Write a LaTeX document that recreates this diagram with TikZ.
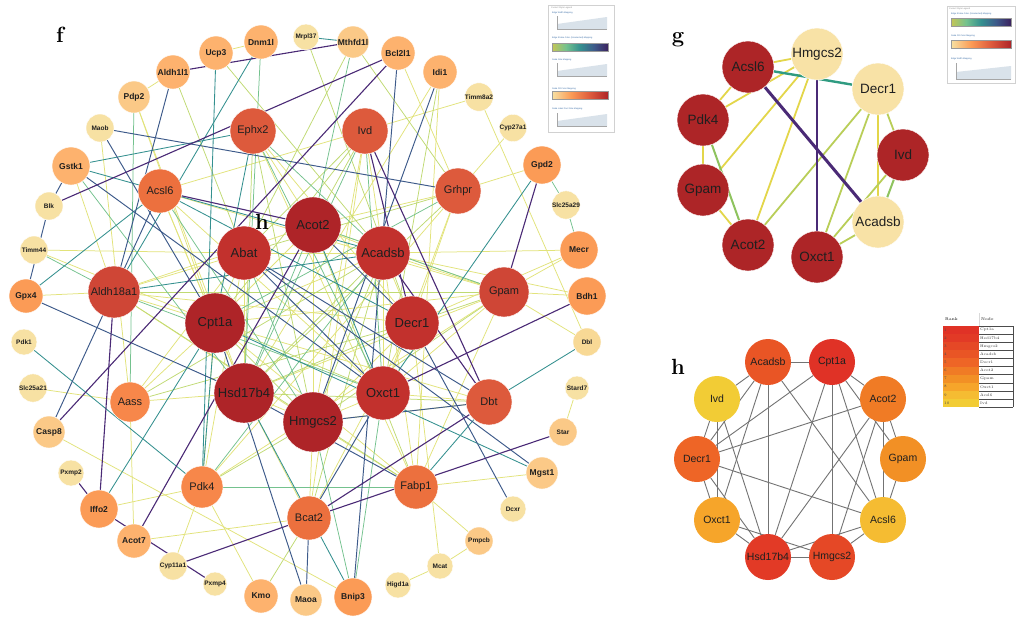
\documentclass[tikz,border=0pt]{standalone}
\usepackage{fontspec}
\setsansfont{Liberation Sans}
\usetikzlibrary{backgrounds}

% node fills
\definecolor{c1}{HTML}{F7E1A3}
\definecolor{c1b}{HTML}{F8D995}
\definecolor{c2}{HTML}{FBC987}
\definecolor{c3}{HTML}{FDB26E}
\definecolor{c4}{HTML}{FB9B56}
\definecolor{c4b}{HTML}{F7874A}
\definecolor{c5}{HTML}{EC703E}
\definecolor{c6}{HTML}{DD5A3C}
\definecolor{c6b}{HTML}{CF4636}
\definecolor{c7}{HTML}{C2312D}
\definecolor{c8}{HTML}{AE2428}
\definecolor{gred}{HTML}{AD2527}
\definecolor{gpale}{HTML}{F8E2A6}
% edge colours
\definecolor{ey}{HTML}{E2E37A}
\definecolor{eyg}{HTML}{C0DA72}
\definecolor{eg}{HTML}{74C28E}
\definecolor{et}{HTML}{34908F}
\definecolor{eb}{HTML}{3D5A8A}
\definecolor{ep}{HTML}{4A2A76}
\definecolor{gy}{HTML}{E3D64A}
\definecolor{gyg}{HTML}{B9CE58}
\definecolor{gg}{HTML}{8EC35E}
% rank colours
\definecolor{r1}{HTML}{E03226}
\definecolor{r2}{HTML}{E23A26}
\definecolor{r3}{HTML}{E54826}
\definecolor{r4}{HTML}{E95525}
\definecolor{r5}{HTML}{EE6526}
\definecolor{r6}{HTML}{F07B25}
\definecolor{r7}{HTML}{F29025}
\definecolor{r8}{HTML}{F6A52A}
\definecolor{r9}{HTML}{F5BC32}
\definecolor{r10}{HTML}{F2CC35}
\definecolor{wedge}{HTML}{D9E2EA}
\definecolor{ttl}{HTML}{3C6FA8}

\tikzset{
  gene/.style={circle,draw=white,line width=.4pt,inner sep=0pt,text=black!88},
  big/.style={gene,minimum size=58,font=\sffamily\fontsize{13}{13}\selectfont},
  mid/.style={gene,minimum size=46,font=\sffamily\fontsize{11}{11}\selectfont},
  ring/.style={gene,minimum size=34,font=\sffamily\bfseries\fontsize{8.5}{8.5}\selectfont},
  sml/.style={gene,minimum size=26,font=\sffamily\bfseries\fontsize{6.5}{6.5}\selectfont},
  gnode/.style={gene,minimum size=52,font=\sffamily\fontsize{13.5}{13.5}\selectfont},
  hnode/.style={gene,draw=none,minimum size=46,font=\sffamily\fontsize{10.5}{10.5}\selectfont},
  letter/.style={font=\rmfamily\bfseries\fontsize{22}{22}\selectfont},
  yline/.style={draw=ey,line width=.75pt},
  ygline/.style={draw=eyg,line width=.75pt},
  gline/.style={draw=eg,line width=.75pt},
  tline/.style={draw=et,line width=.85pt},
  bline/.style={draw=eb,line width=.95pt},
  pline/.style={draw=ep,line width=1.1pt},
  ttltext/.style={font=\sffamily\fontsize{2.2}{2.2}\selectfont,text=ttl,anchor=west,inner sep=0pt},
}

\begin{document}
\begin{tikzpicture}[x=1pt,y=-1pt]
\useasboundingbox (0,0) rectangle (1028,619);

% ---------------- panel f
\node[letter] (lf) at (60,35) {f};

% outer ring
\node[sml,fill=c1]  (Mrpl37)  at (306,37)  {Mrpl37};
\node[ring,fill=c2,minimum size=32]  (Mthfd1l) at (353,42)  {Mthfd1l};
\node[ring,fill=c3]  (Bcl2l1)  at (398,53)  {Bcl2l1};
\node[ring,fill=c3]  (Idi1)    at (440,72)  {Idi1};
\node[sml,fill=c1]  (Timm8a2) at (479,97)  {Timm8a2};
\node[sml,fill=c1]  (Cyp27a1) at (513,128) {Cyp27a1};
\node[ring,fill=c4,minimum size=38]  (Gpd2)    at (542,165) {Gpd2};
\node[sml,fill=c1,minimum size=24]  (Slc25a29) at (566,205) {Slc25a29};
\node[ring,fill=c4,minimum size=38]  (Mecr)    at (579,250) {Mecr};
\node[ring,fill=c4,minimum size=38]  (Bdh1)    at (587,296) {Bdh1};
\node[sml,fill=c1b,minimum size=28] (Dbl)     at (587,342) {Dbl};
\node[sml,fill=c1,minimum size=24]  (Stard7)  at (577,388) {Stard7};
\node[sml,fill=c2,minimum size=28]  (Star)    at (563,432) {Star};
\node[ring,fill=c2,minimum size=32]  (Mgst1)   at (542,473) {Mgst1};
\node[sml,fill=c1]  (Dcxr)    at (513,509) {Dcxr};
\node[sml,fill=c2,minimum size=28]  (Pmpcb)   at (479,541) {Pmpcb};
\node[sml,fill=c1]  (Mcat)    at (440,566) {Mcat};
\node[sml,fill=c1]  (Higd1a)  at (398,585) {Higd1a};
\node[ring,fill=c4,minimum size=38]  (Bnip3)   at (353,597) {Bnip3};
\node[ring,fill=c2,minimum size=32]  (Maoa)    at (306,600) {Maoa};
\node[ring,fill=c3]  (Kmo)     at (261,596) {Kmo};
\node[sml,fill=c1,minimum size=24]  (Pxmp4)   at (215,584) {Pxmp4};
\node[sml,fill=c1,minimum size=28]  (Cyp11a1) at (173,566) {Cyp11a1};
\node[ring,fill=c3]  (Acot7)   at (134,541) {Acot7};
\node[ring,fill=c4,minimum size=38]  (Iffo2)   at (99,509)  {Iffo2};
\node[sml,fill=c1]  (Pxmp2)   at (71,473)  {Pxmp2};
\node[ring,fill=c2,minimum size=32]  (Casp8)   at (49,432)  {Casp8};
\node[sml,fill=c1,minimum size=24]  (Slc25a21) at (33,388) {Slc25a21};
\node[sml,fill=c1]  (Pdk1)    at (24,342)  {Pdk1};
\node[ring,fill=c4]  (Gpx4)    at (26,296)  {Gpx4};
\node[sml,fill=c1,minimum size=28]  (Timm44)  at (34,250)  {Timm44};
\node[sml,fill=c1,minimum size=28]  (Blk)     at (49,206)  {Blk};
\node[ring,fill=c3,minimum size=38]  (Gstk1)   at (71,166)  {Gstk1};
\node[sml,fill=c1,minimum size=28]  (Maob)    at (100,128) {Maob};
\node[ring,fill=c2,minimum size=32]  (Pdp2)    at (134,97)  {Pdp2};
\node[ring,fill=c3]  (Aldh1l1) at (173,72)  {Aldh1l1};
\node[ring,fill=c3]  (Ucp3)    at (216,53)  {Ucp3};
\node[ring,fill=c3]  (Dnm1l)   at (261,42)  {Dnm1l};

% middle ring
\node[mid,fill=c6]  (Ephx2)    at (253,131) {Ephx2};
\node[mid,fill=c6]  (Ivd)      at (365,131) {Ivd};
\node[mid,fill=c6]  (Grhpr)    at (458,191) {Grhpr};
\node[mid,fill=c6b,minimum size=50] (Gpam) at (504,292) {Gpam};
\node[mid,fill=c6]  (Dbt)      at (489,402) {Dbt};
\node[mid,fill=c5,minimum size=44]  (Fabp1) at (416,487) {Fabp1};
\node[mid,fill=c5,minimum size=44]  (Bcat2) at (309,518) {Bcat2};
\node[mid,fill=c4b,minimum size=42] (Pdk4)  at (202,487) {Pdk4};
\node[mid,fill=c4b,minimum size=40] (Aass)  at (130,402) {Aass};
\node[mid,fill=c6b,minimum size=52] (Aldh18a1) at (114,292) {Aldh18a1};
\node[mid,fill=c5,minimum size=44]  (Acsl6) at (160,191) {Acsl6};

% inner ring
\node[big,fill=c8,minimum size=56] (Acot2)   at (313,225) {Acot2};
\node[big,fill=c7,minimum size=54] (Acadsb)  at (383,253) {Acadsb};
\node[big,fill=c7,minimum size=54] (Decr1)   at (412,323) {Decr1};
\node[big,fill=c7,minimum size=54] (Oxct1)   at (383,393) {Oxct1};
\node[big,fill=c8,minimum size=60] (Hmgcs2)  at (313,422) {Hmgcs2};
\node[big,fill=c8,minimum size=60] (Hsd17b4) at (244,393) {Hsd17b4};
\node[big,fill=c8,minimum size=60] (Cpt1a)   at (215,323) {Cpt1a};
\node[big,fill=c7,minimum size=54] (Abat)    at (244,253) {Abat};

\node[letter] (lhf) at (262,222) {h};

% legend of panel f
\draw[black!18,fill=white,line width=.5pt] (548,5) rectangle (614,132);
\node[ttltext,text=black!45] (lgf0) at (551,8) {Current Style Legend};
\node[ttltext] (lgf1) at (552,13) {Edge Width Mapping};
\node[ttltext] (lgf2) at (552,38) {Edge Stroke Color (Unselected) Mapping};
\node[ttltext] (lgf3) at (552,60) {Node Size Mapping};
\node[ttltext] (lgf4) at (552,89) {Node Fill Color Mapping};
\node[ttltext] (lgf5) at (552,109) {Node Label Font Size Mapping};
\foreach \y in {16,63,113}{
  \fill[wedge] (557,\y+13) -- (607,\y+13) -- (607,\y+1) -- (557,\y+8) -- cycle;
  \draw[black!35,line width=.3pt] (557,\y) -- (557,\y+13) -- (607,\y+13);
}
\shade[left color=ey!70!olive,right color=eg] (552,43) rectangle (566,51);
\shade[left color=eg,right color=et] (566,43) rectangle (580,51);
\shade[left color=et,right color=eb] (580,43) rectangle (594,51);
\shade[left color=eb,right color=ep!80!black] (594,43) rectangle (608,51);
\draw[black!40,line width=.3pt] (552,43) rectangle (608,51);
\shade[left color=c1,right color=c4] (552,91) rectangle (571,99);
\shade[left color=c4,right color=c6] (571,91) rectangle (590,99);
\shade[left color=c6,right color=c8] (590,91) rectangle (608,99);
\draw[black!40,line width=.3pt] (552,91) rectangle (608,99);

% ---------------- panel g
\node[letter] (lg) at (678,40) {g};
\node[gnode,fill=gpale] (g-Hmgcs2) at (817,54)  {Hmgcs2};
\node[gnode,fill=gred]  (g-Acsl6)  at (748,67)  {Acsl6};
\node[gnode,fill=gpale] (g-Decr1)  at (878,89)  {Decr1};
\node[gnode,fill=gred]  (g-Pdk4)   at (703,120) {Pdk4};
\node[gnode,fill=gred]  (g-Ivd)    at (903,155) {Ivd};
\node[gnode,fill=gred]  (g-Gpam)   at (703,190) {Gpam};
\node[gnode,fill=gpale] (g-Acadsb) at (878,222) {Acadsb};
\node[gnode,fill=gred]  (g-Acot2)  at (748,245) {Acot2};
\node[gnode,fill=gred]  (g-Oxct1)  at (817,257) {Oxct1};

% legend of panel g
\draw[black!18,fill=white,line width=.5pt] (947,6) rectangle (1015,83);
\node[ttltext,text=black!45] (lgg0) at (949,9) {Current Style Legend};
\node[ttltext] (lgg1) at (951,14) {Edge Stroke Color (Unselected) Mapping};
\node[ttltext] (lgg2) at (951,36) {Node Fill Color Mapping};
\node[ttltext] (lgg3) at (951,59) {Edge Width Mapping};
\shade[left color=ey!70!olive,right color=eg] (951,18) rectangle (966,26);
\shade[left color=eg,right color=et] (966,18) rectangle (981,26);
\shade[left color=et,right color=eb] (981,18) rectangle (996,26);
\shade[left color=eb,right color=ep!80!black] (996,18) rectangle (1011,26);
\draw[black!40,line width=.3pt] (951,18) rectangle (1011,26);
\shade[left color=c1,right color=c4] (951,40) rectangle (971,48);
\shade[left color=c4,right color=c6] (971,40) rectangle (991,48);
\shade[left color=c6,right color=c8] (991,40) rectangle (1011,48);
\draw[black!40,line width=.3pt] (951,40) rectangle (1011,48);
\fill[wedge] (956,79) -- (1011,79) -- (1011,66) -- (956,72) -- cycle;
\draw[black!35,line width=.3pt] (956,63) -- (956,79) -- (1011,79);

% ---------------- panel h
\node[letter] (lh) at (678,367) {h};
\node[hnode,fill=r4]  (h-Acadsb)  at (768,362) {Acadsb};
\node[hnode,fill=r1]  (h-Cpt1a)   at (832,362) {Cpt1a};
\node[hnode,fill=r10] (h-Ivd)     at (717,399) {Ivd};
\node[hnode,fill=r6]  (h-Acot2)   at (883,399) {Acot2};
\node[hnode,fill=r5]  (h-Decr1)   at (697,459) {Decr1};
\node[hnode,fill=r7]  (h-Gpam)    at (903,459) {Gpam};
\node[hnode,fill=r8]  (h-Oxct1)   at (717,520) {Oxct1};
\node[hnode,fill=r9]  (h-Acsl6)   at (883,520) {Acsl6};
\node[hnode,fill=r2]  (h-Hsd17b4) at (768,557) {Hsd17b4};
\node[hnode,fill=r3]  (h-Hmgcs2)  at (832,557) {Hmgcs2};

% rank table
\fill[white] (943,313) rectangle (1015,408);
\node[font=\rmfamily\fontsize{4}{4}\selectfont,anchor=west,inner sep=0pt] (rkhead) at (945,319.5) {Rank};
\node[font=\rmfamily\fontsize{4}{4}\selectfont,anchor=west,inner sep=0pt] (nmhead) at (981,319.5) {Node};
\draw[black!15,line width=.3pt] (979,313) -- (979,326);
\foreach \r/\gene/\col in {1/Cpt1a/r1,2/Hsd17b4/r2,3/Hmgcs2/r3,4/Acadsb/r4,5/Decr1/r5,
                           6/Acot2/r6,7/Gpam/r7,8/Oxct1/r8,9/Acsl6/r9,10/Ivd/r10}{
  \fill[\col] (943,{326+(\r-1)*8.1}) rectangle (979,{326+\r*8.1});
  \draw[black!70,line width=.3pt] (979,{326+\r*8.1}) -- (1013,{326+\r*8.1});
  \node[font=\rmfamily\fontsize{3.8}{3.8}\selectfont,text=black!70,anchor=west,inner sep=0pt]
    (rk\r) at (944,{330+(\r-1)*8.1}) {\r};
  \node[font=\rmfamily\fontsize{3.8}{3.8}\selectfont,text=black!80,anchor=west,inner sep=0pt]
    (nm\r) at (980,{330+(\r-1)*8.1}) {\gene};
}
\draw[black!70,line width=.3pt] (979,326) -- (1013,326) -- (1013,407);

% ---------------- connectors
\begin{pgfonlayer}{background}
\fill[white] (0,0) rectangle (1028,619);
% panel f
\foreach \a/\b in {Ucp3/Dnm1l,Pdp2/Aldh1l1,Pdp2/Hsd17b4,Idi1/Hsd17b4,Idi1/Fabp1,Timm8a2/Acsl6,
    Timm8a2/Dbl,Cyp27a1/Pdk4,Gpd2/Grhpr,Mecr/Gpam,Mecr/Acadsb,Mecr/Decr1,Bdh1/Gpam,Bdh1/Acadsb,
    Dbl/Gpam,Stard7/Star,Mgst1/Fabp1,Pmpcb/Mcat,Mcat/Higd1a,Pmpcb/Fabp1,Mcat/Decr1,Casp8/Bnip3,
    Kmo/Pdk4,Acot7/Bcat2,Acot7/Aass,Iffo2/Pdk4,Slc25a21/Aass,Gpx4/Aldh18a1,Timm44/Cpt1a,
    Timm44/Abat,Cyp11a1/Pdk4,Bcl2l1/Grhpr,Cpt1a/Acadsb,Cpt1a/Acot2,Cpt1a/Hsd17b4,Cpt1a/Abat,
    Acot2/Acadsb,Acot2/Hmgcs2,Acadsb/Decr1,Acadsb/Oxct1,Decr1/Oxct1,Decr1/Hmgcs2,Oxct1/Hmgcs2,
    Hmgcs2/Hsd17b4,Hsd17b4/Abat,Abat/Acadsb,Aldh18a1/Abat,Aldh18a1/Cpt1a,Aldh18a1/Hmgcs2,
    Aldh18a1/Decr1,Aldh18a1/Acot2,Aass/Cpt1a,Aass/Hsd17b4,Aass/Abat,Pdk4/Cpt1a,Pdk4/Gpam,
    Pdk4/Abat,Bcat2/Hmgcs2,Bcat2/Decr1,Bcat2/Ivd,Bcat2/Hsd17b4,Fabp1/Hmgcs2,Fabp1/Acadsb,
    Fabp1/Cpt1a,Fabp1/Gpam,Dbt/Hmgcs2,Dbt/Oxct1,Dbt/Cpt1a,Gpam/Acadsb,Gpam/Cpt1a,Gpam/Oxct1,
    Gpam/Acot2,Gpam/Acsl6,Gpam/Hsd17b4,Grhpr/Acot2,Grhpr/Decr1,Grhpr/Oxct1,Ivd/Acadsb,
    Ivd/Hmgcs2,Ephx2/Acot2,Ephx2/Fabp1,Ephx2/Decr1,Acsl6/Cpt1a,Acsl6/Hsd17b4,Acsl6/Oxct1,
    Maob/Aass,Gstk1/Aldh18a1,Pdp2/Cpt1a}
  \draw[yline] (\a) -- (\b);
\foreach \a/\b in {Ucp3/Acadsb,Mrpl37/Decr1,Aldh1l1/Abat,Mthfd1l/Abat,Ivd/Acot2,Ivd/Abat,
    Ivd/Cpt1a,Ephx2/Hmgcs2,Ephx2/Hsd17b4,Grhpr/Hsd17b4,Grhpr/Abat,Gpam/Hmgcs2,Gpam/Decr1,
    Gpam/Aldh18a1,Decr1/Hsd17b4,Oxct1/Cpt1a,Hmgcs2/Cpt1a,Acadsb/Hsd17b4,Acadsb/Hmgcs2,
    Aass/Decr1,Aass/Acadsb,Pdk4/Hmgcs2,Bcat2/Acadsb,Fabp1/Acot2,Fabp1/Aldh18a1,Kmo/Bcat2,
    Dbt/Hsd17b4,Idi1/Oxct1,Mthfd1l/Grhpr}
  \draw[ygline] (\a) -- (\b);
\foreach \a/\b in {Dnm1l/Hsd17b4,Pdp2/Aass,Gstk1/Hsd17b4,Gpd2/Slc25a29,Slc25a29/Mecr,
    Bnip3/Hmgcs2,Mthfd1l/Acot2,Ephx2/Acadsb,Ephx2/Oxct1,Acot2/Hsd17b4,Abat/Hmgcs2,
    Ivd/Hsd17b4,Ivd/Oxct1,Grhpr/Cpt1a,Aldh18a1/Oxct1,Acsl6/Hmgcs2,Pdk4/Acadsb,Acot2/Gpam,
    Fabp1/Pdk4,Timm44/Aldh18a1,Bnip3/Oxct1}
  \draw[gline] (\a) -- (\b);
\foreach \a/\b in {Mrpl37/Mthfd1l,Gstk1/Ephx2,Dnm1l/Aldh18a1,Ucp3/Pdk4,Gpd2/Oxct1,Dbl/Dbt,
    Pdk1/Pdk4,Gpx4/Acsl6,Iffo2/Cpt1a,Mgst1/Cpt1a,Acsl6/Decr1,Dbt/Fabp1,Acadsb/Aldh18a1,
    Ephx2/Cpt1a,Cpt1a/Pdk4,Gstk1/Acadsb,Acot2/Oxct1,Hsd17b4/Bnip3}
  \draw[tline] (\a) -- (\b);
\foreach \a/\b in {Gstk1/Blk,Blk/Gpx4,Maob/Grhpr,Maob/Cpt1a,Aldh1l1/Aldh18a1,Gstk1/Oxct1,
    Gpx4/Hsd17b4,Dcxr/Decr1,Abat/Mgst1,Cpt1a/Maoa,Maoa/Bcat2,Abat/Dbt,Idi1/Hmgcs2,
    Bcl2l1/Bnip3,Casp8/Acsl6,Abat/Oxct1,Acot2/Decr1,Hsd17b4/Fabp1,Bcat2/Oxct1,Hmgcs2/Dbt}
  \draw[bline] (\a) -- (\b);
\foreach \a/\b in {Aldh1l1/Mthfd1l,Blk/Bcl2l1,Bcl2l1/Casp8,Gpd2/Gpam,Bdh1/Oxct1,Ivd/Dbt,
    Acadsb/Dbt,Star/Bcat2,Dbt/Bcat2,Pxmp2/Iffo2,Iffo2/Pxmp4,Cyp11a1/Bcat2,Acot7/Acot2,
    Iffo2/Aldh18a1,Acsl6/Acot2,Ivd/Decr1}
  \draw[pline] (\a) -- (\b);
% panel g
\foreach \a/\b in {g-Acsl6/g-Hmgcs2,g-Acsl6/g-Pdk4,g-Hmgcs2/g-Gpam,g-Hmgcs2/g-Acot2,
    g-Hmgcs2/g-Pdk4,g-Decr1/g-Acadsb,g-Pdk4/g-Gpam,g-Gpam/g-Acot2}
  \draw[draw=gy,line width=1.8pt] (\a) -- (\b);
\foreach \a/\b in {g-Decr1/g-Acot2,g-Decr1/g-Oxct1,g-Decr1/g-Ivd,g-Ivd/g-Oxct1,g-Acadsb/g-Oxct1}
  \draw[draw=gyg,line width=1.8pt] (\a) -- (\b);
\foreach \a/\b in {g-Ivd/g-Acadsb,g-Pdk4/g-Acot2}
  \draw[draw=gg,line width=2pt] (\a) -- (\b);
\draw[draw=et!90!green,line width=2.4pt] (g-Acsl6) -- (g-Decr1);
\draw[draw=ep,line width=3pt] (g-Acsl6) -- (g-Acadsb);
\draw[draw=ep,line width=2.4pt] (g-Hmgcs2) -- (g-Oxct1);
% panel h
\foreach \a/\b in {Acadsb/Cpt1a,Hsd17b4/Hmgcs2,Acadsb/Ivd,Acadsb/Decr1,Acadsb/Oxct1,
    Acadsb/Hsd17b4,Acadsb/Acsl6,Cpt1a/Decr1,Cpt1a/Hsd17b4,Cpt1a/Hmgcs2,Cpt1a/Acot2,
    Cpt1a/Gpam,Cpt1a/Acsl6,Acot2/Decr1,Acot2/Hsd17b4,Acot2/Hmgcs2,Acot2/Gpam,Acot2/Acsl6,
    Ivd/Decr1,Ivd/Oxct1,Ivd/Hsd17b4,Decr1/Oxct1,Decr1/Hsd17b4,Decr1/Acsl6,Oxct1/Hsd17b4,
    Oxct1/Hmgcs2,Gpam/Acsl6,Acsl6/Hmgcs2,Acsl6/Hsd17b4}
  \draw[draw=black!55,line width=.9pt] (h-\a) -- (h-\b);
\end{pgfonlayer}
\end{tikzpicture}
\end{document}
